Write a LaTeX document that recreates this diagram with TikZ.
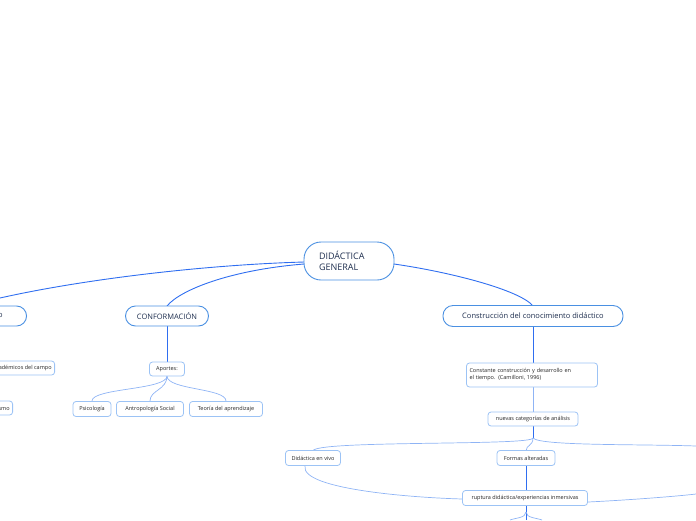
\documentclass[tikz,border=0pt]{standalone}
\usepackage{fontspec}
\setmainfont{Open Sans}
\definecolor{mainb}{HTML}{4A90E2}
\definecolor{subb}{HTML}{9CC3F5}
\definecolor{lineb}{HTML}{2F6EF0}
\definecolor{lineL}{HTML}{8FB4F5}
\definecolor{txt}{HTML}{1F2F4F}
\begin{document}
\begin{tikzpicture}[x=1pt,y=-1pt,
 main/.style={draw=mainb,line width=0.9pt,rounded corners=10pt,fill=white,font=\fontsize{7.5}{9}\selectfont,text=txt,inner sep=0pt},
 sub/.style={draw=subb,line width=0.8pt,rounded corners=3pt,fill=white,font=\fontsize{5.5}{7}\selectfont,text=black!85,inner sep=0pt},
 bl/.style={draw=lineb,line width=0.9pt},
 lb/.style={draw=lineL,line width=0.7pt}]
\useasboundingbox (0,0) rectangle (696,520);
% connectors
\draw[bl] (304,262) .. controls (200,265) and (80,280) .. (0,298);
\draw[bl] (304,264) .. controls (230,270) and (180,290) .. (167,306);
\draw[bl] (394,264) .. controls (450,272) and (520,290) .. (533,306);
\draw[bl] (167,326) -- (167,362);
\draw[lb] (167,376) .. controls (167,390) and (92,388) .. (92,401);
\draw[lb] (167,376) .. controls (167,390) and (150,390) .. (150,401);
\draw[lb] (167,376) .. controls (167,390) and (226,388) .. (226,401);
\draw[bl] (533,327) -- (533,363);
\draw[lb] (533,387) -- (533,412);
\draw[bl] (533,426) -- (533,438);
\draw[lb] (533,438) .. controls (533,446) and (313,440) .. (313,451);
\draw[lb] (533,438) .. controls (533,446) and (526,445) .. (526,451);
\draw[lb] (533,438) .. controls (540,446) and (640,444) .. (696,446);
\draw[bl] (526,466) -- (526,491);
\draw[lb] (305,466) .. controls (300,490) and (420,498) .. (463,499);
\draw[lb] (588,502) .. controls (630,500) and (680,496) .. (696,494);
\draw[bl] (526,506) -- (526,520);
\draw[lb] (526,512) .. controls (526,518) and (515,518) .. (510,520);
\draw[lb] (526,512) .. controls (526,518) and (537,518) .. (542,520);
% nodes
\node[main,minimum width=90pt,minimum height=38pt,rounded corners=17pt,align=left,text width=60pt,font=\fontsize{9}{11}\selectfont] (root) at (349,261) {DIDÁCTICA\\GENERAL};
\node[main,minimum width=100pt,minimum height=20pt,anchor=east] (left) at (27,316) {};
\node[main,draw=none,fill=none,anchor=east] (lefttxt) at (3,316) {Campo};
\node[main,minimum width=83pt,minimum height=20pt] (conf) at (167,316) {CONFORMACIÓN};
\node[main,minimum width=180pt,minimum height=21pt] (cons) at (533,316) {Construcción del conocimiento didáctico};
\node[sub,minimum width=35pt,minimum height=14pt] (ap) at (167,369) {Aportes:};
\node[sub,minimum width=38pt,minimum height=15pt] (psi) at (92,409) {Psicología};
\node[sub,minimum width=67pt,minimum height=15pt] (ant) at (150,409) {Antropología Social};
\node[sub,minimum width=73pt,minimum height=15pt] (teo) at (226,409) {Teoría del aprendizaje};
\node[sub,minimum height=14pt,anchor=east,inner xsep=3pt] (acad) at (55,368) {Aportes académicos del campo};
\node[sub,minimum height=14pt,anchor=east,inner xsep=3pt] (mo) at (13,408) {Racionalismo};
\node[sub,minimum width=131pt,minimum height=24pt,align=left,text width=125pt] (cte) at (532,375) {Constante construcción y desarrollo en\\el tiempo. (Camilloni, 1996)};
\node[sub,minimum width=90pt,minimum height=14pt] (nc) at (533,419) {nuevas categorías de análisis};
\node[sub,minimum width=55pt,minimum height=15pt] (dv) at (313,458) {Didáctica en vivo};
\node[sub,minimum width=58pt,minimum height=15pt] (fa) at (526,458) {Formas alteradas};
\node[sub,minimum width=125pt,minimum height=15pt] (rup) at (525,498) {ruptura didáctica/experiencias inmersivas};
\end{tikzpicture}
\end{document}
